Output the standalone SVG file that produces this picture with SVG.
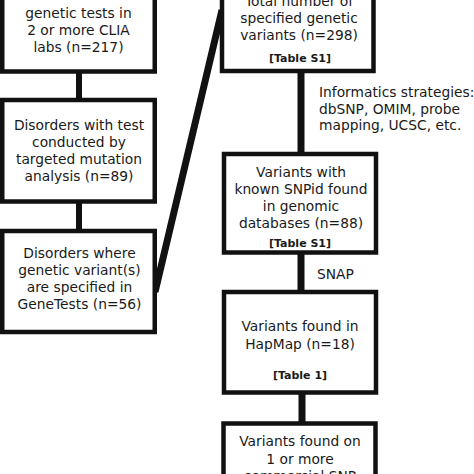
<svg xmlns="http://www.w3.org/2000/svg" width="474" height="474" viewBox="0 0 474 474">
<style>
.box{fill:#fff;stroke:#111;stroke-width:4.5}
.t{font-family:"DejaVu Sans",Verdana,sans-serif;font-size:13.8px;fill:#1a1a1a;text-anchor:middle}
.b{font-family:"DejaVu Sans",Verdana,sans-serif;font-size:11px;font-weight:bold;fill:#1a1a1a;text-anchor:middle}
.l{font-family:"DejaVu Sans",Verdana,sans-serif;font-size:13.8px;fill:#1a1a1a}
.c{stroke:#111;fill:none}
</style>
<rect width="474" height="474" fill="#fff"/>
<g id="connectors">
<line class="c" x1="79" y1="71" x2="79" y2="100" stroke-width="6"/>
<line class="c" x1="79" y1="201" x2="79" y2="231" stroke-width="6"/>
<line class="c" x1="222" y1="10" x2="155" y2="292" stroke-width="7"/>
<line class="c" x1="301" y1="71" x2="301" y2="154" stroke-width="7"/>
<line class="c" x1="301" y1="252" x2="301" y2="292" stroke-width="7"/>
<line class="c" x1="302" y1="392" x2="302" y2="423" stroke-width="7"/>
</g>
<g id="label-informatics">
<text class="l" x="319" y="97">Informatics strategies:</text>
<text class="l" x="319" y="113.5">dbSNP, OMIM, probe</text>
<text class="l" x="319" y="130">mapping, UCSC, etc.</text>
</g>
<g id="label-snap">
<text class="l" x="317" y="279">SNAP</text>
</g>
<g id="n1">
<rect class="box" x="2.25" y="-10" width="152.5" height="81.5"/>
<text class="t" x="78.5" y="17.5">genetic tests in</text>
<text class="t" x="78.5" y="34.8">2 or more CLIA</text>
<text class="t" x="78.5" y="52">labs (n=217)</text>
</g>
<g id="n2">
<rect class="box" x="2.25" y="100" width="152.5" height="101.5"/>
<text class="t" x="79" y="130">Disorders with test</text>
<text class="t" x="79" y="147">conducted by</text>
<text class="t" x="79" y="164">targeted mutation</text>
<text class="t" x="79" y="181">analysis (n=89)</text>
</g>
<g id="n3">
<rect class="box" x="2.25" y="231" width="152.5" height="101"/>
<text class="t" x="79.5" y="258">Disorders where</text>
<text class="t" x="79.5" y="275">genetic variant(s)</text>
<text class="t" x="79.5" y="292">are specified in</text>
<text class="t" x="79.5" y="309">GeneTests (n=56)</text>
</g>
<g id="n4">
<rect class="box" x="222" y="-10" width="151.5" height="81"/>
<text class="t" x="299" y="6">Total number of</text>
<text class="t" x="299" y="23">specified genetic</text>
<text class="t" x="299" y="40">variants (n=298)</text>
<text class="b" x="300" y="61.5">[Table S1]</text>
</g>
<g id="n5">
<rect class="box" x="224" y="154" width="152" height="98.5"/>
<text class="t" x="301" y="177">Variants with</text>
<text class="t" x="301" y="194">known SNPid found</text>
<text class="t" x="301" y="211">in genomic</text>
<text class="t" x="301" y="228">databases (n=88)</text>
<text class="b" x="300" y="247">[Table S1]</text>
</g>
<g id="n6">
<rect class="box" x="224" y="292" width="152" height="100.5"/>
<text class="t" x="300" y="331">Variants found in</text>
<text class="t" x="300" y="348.5">HapMap (n=18)</text>
<text class="b" x="300" y="378.5">[Table 1]</text>
</g>
<g id="n7">
<rect class="box" x="223.5" y="423.5" width="152" height="70"/>
<text class="t" x="300" y="446">Variants found on</text>
<text class="t" x="300" y="463.5">1 or more</text>
<text class="t" x="300" y="481">commercial SNP</text>
</g>
</svg>
